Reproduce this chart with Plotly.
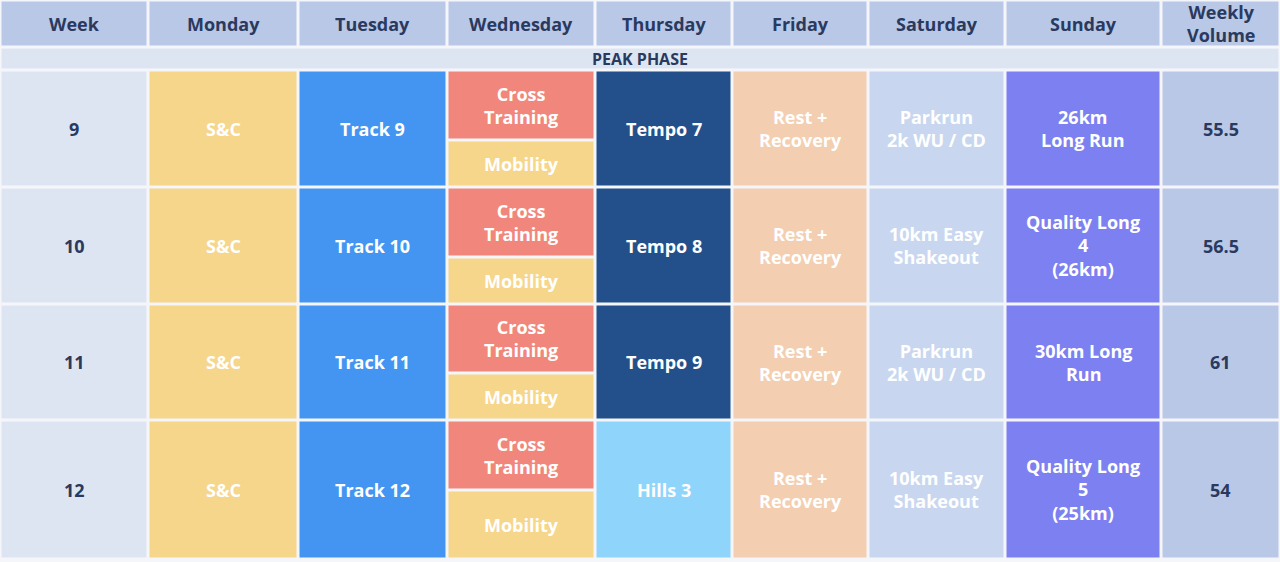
import plotly.graph_objects as go

headers = ["Week", "Monday", "Tuesday", "Wednesday", "Thursday", "Friday", "Saturday", "Sunday", "Weekly<br>Volume"]
phase = "PEAK PHASE"
weeks = ["9", "10", "11", "12"]
monday = ["S&C", "S&C", "S&C", "S&C"]
tuesday = ["Track 9", "Track 10", "Track 11", "Track 12"]
wed_top = ["Cross<br>Training"] * 4
wed_bottom = ["Mobility"] * 4
thursday = ["Tempo 7", "Tempo 8", "Tempo 9", "Hills 3"]
friday = ["Rest +<br>Recovery"] * 4
saturday = ["Parkrun<br>2k WU / CD", "10km Easy<br>Shakeout", "Parkrun<br>2k WU / CD", "10km Easy<br>Shakeout"]
sunday = ["26km<br>Long Run", "Quality Long<br>4<br>(26km)", "30km Long<br>Run", "Quality Long<br>5<br>(25km)"]
volume = ["55.5", "56.5", "61", "54"]

# layout geometry (pixels)
col_edges = [0, 148, 298, 447, 595, 732, 868, 1005, 1161, 1280]
row_edges = [70, 187, 304, 420, 559]
header_y = (0, 47)
phase_y = (47, 70)
wed_split = [140, 257, 373, 490]
gap = 1.5

C_HDR = "#b9c8e7"; C_LIGHT = "#dde5f3"; C_TXT = "#2a3a5e"
C_MON = "#f6d68b"; C_TUE = "#4395f1"; C_CROSS = "#f1877c"; C_MOB = "#f6d68b"
C_TEMPO = "#23508b"; C_HILLS = "#8fd4fb"; C_FRI = "#f3ceb1"; C_SAT = "#c8d7ef"
C_SUN = "#7c80f1"; C_VOL = "#b9c8e7"

fig = go.Figure()
shapes, ann = [], []
FONT = "Open Sans"

def cell(x0, x1, y0, y1, color, text, tcolor="white", size=18):
    shapes.append(dict(type="rect", x0=x0 + gap, x1=x1 - gap, y0=y0 + gap, y1=y1 - gap,
                       fillcolor=color, line=dict(width=0), layer="below"))
    ann.append(dict(x=(x0 + x1) / 2, y=(y0 + y1) / 2, text="<b>" + text + "</b>", showarrow=False,
                    font=dict(family=FONT, size=size, color=tcolor), xref="x", yref="y"))

for i, h in enumerate(headers):
    cell(col_edges[i], col_edges[i + 1], *header_y, C_HDR, h, C_TXT, 18)
cell(0, 1280, *phase_y, C_LIGHT, phase, C_TXT, 16)

for r in range(4):
    y0, y1 = row_edges[r], row_edges[r + 1]
    ce = col_edges
    cell(ce[0], ce[1], y0, y1, C_LIGHT, weeks[r], C_TXT)
    cell(ce[1], ce[2], y0, y1, C_MON, monday[r])
    cell(ce[2], ce[3], y0, y1, C_TUE, tuesday[r])
    cell(ce[3], ce[4], y0, wed_split[r], C_CROSS, wed_top[r])
    cell(ce[3], ce[4], wed_split[r], y1, C_MOB, wed_bottom[r])
    cell(ce[4], ce[5], y0, y1, C_HILLS if thursday[r].startswith("Hills") else C_TEMPO, thursday[r])
    cell(ce[5], ce[6], y0, y1, C_FRI, friday[r])
    cell(ce[6], ce[7], y0, y1, C_SAT, saturday[r])
    cell(ce[7], ce[8], y0, y1, C_SUN, sunday[r])
    cell(ce[8], ce[9], y0, y1, C_VOL, volume[r], C_TXT)

fig.update_layout(width=1280, height=562, margin=dict(l=0, r=0, t=0, b=0),
                  paper_bgcolor="#f4f6fa", plot_bgcolor="#f4f6fa",
                  shapes=shapes, annotations=ann, showlegend=False,
                  xaxis=dict(range=[0, 1280], visible=False, fixedrange=True),
                  yaxis=dict(range=[562, 0], visible=False, fixedrange=True))
fig.write_html("out.html", config={"displayModeBar": False},
               post_script="document.body.style.margin='0';document.body.style.overflow='hidden';")
